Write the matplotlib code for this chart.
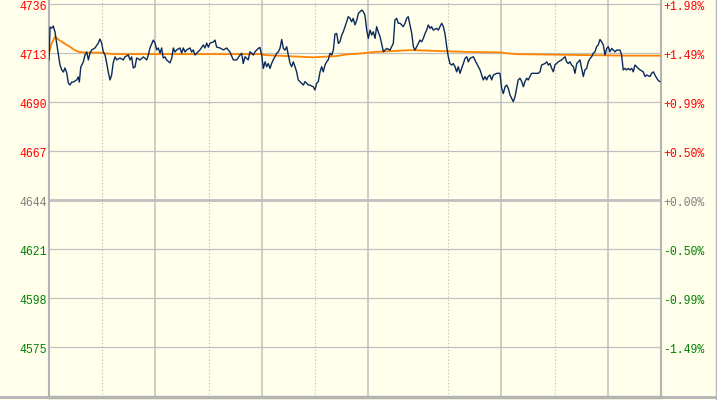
import matplotlib
matplotlib.use("Agg")
import matplotlib.pyplot as plt
from matplotlib.transforms import blended_transform_factory, offset_copy

# ---------------- data ----------------
prev_close = 4644
price_levels = [4736, 4713, 4690, 4667, 4644, 4621, 4598, 4575]
pct_labels = ["+1.98%", "+1.49%", "+0.99%", "+0.50%", "+0.00%", "-0.50%", "-0.99%", "-1.49%"]

# time grid (minutes from session open, 345 trading minutes total)
vgrid_minutes = [30, 60, 90, 120, 150, 180, 225, 255, 285, 315]
vgrid_dotted = [True, False, True, False, True, False, True, False, True, False]

price_min = [0, 0.6, 1.5, 2.4, 3.4, 4.3, 6.2, 7.2, 8.1, 9.0, 10.0, 10.9, 11.8, 12.8, 13.7, 15.6, 16.5, 17.1,
             17.9, 19.3, 20.3, 21.3, 22.2, 23.1, 24.1, 25.9, 27.8, 28.7, 29.7, 30.6, 31.6, 32.5, 33.4, 34.4,
             35.3, 36.2, 37.2, 38.2, 40.0, 41.9, 42.8, 44.7, 45.7, 46.6, 47.5, 48.5, 49.4, 51.3, 53.2, 55.1,
             56.0, 56.9, 58.8, 59.8, 60.7, 61.6, 62.6, 63.5, 64.4, 65.4, 66.3, 68.2, 69.2, 70.1, 71.0, 72.0,
             73.8, 74.8, 75.7, 76.7, 77.6, 79.5, 80.4, 81.3, 82.3, 83.3, 85.1, 87.0, 87.9, 88.9, 89.8, 90.8,
             92.6, 93.6, 94.5, 96.4, 98.3, 100.2, 102.0,
             103.9, 105.8, 107.7, 108.6, 109.5, 110.5, 111.4, 112.3, 113.3, 114.3, 115.2, 116.1, 118.0, 118.9,
             119.9, 120.8, 121.8, 122.7, 123.6, 124.6, 125.5, 126.4, 127.4, 128.4, 129.3, 130.2, 131.2, 132.1,
             133.0, 134.0, 134.9, 135.9, 136.8, 137.7, 138.7, 139.6, 140.5, 141.5, 142.4, 143.4, 144.3, 145.3,
             146.2, 147.1, 148.1, 149.0, 149.9, 150.9, 151.8, 152.8, 153.7, 154.6, 155.6, 156.5, 157.4, 158.4,
             159.4, 160.3, 161.2, 162.2, 163.1, 164.0, 165.0, 165.9, 166.9, 167.8, 168.7, 169.7, 170.6, 171.5,
             172.5, 173.5, 174.4, 175.3, 176.3, 177.2, 178.1, 179.1, 180.0, 181.0, 181.9, 182.8, 183.8, 184.7,
             185.6, 186.6, 187.5, 188.5, 189.4, 190.4, 192.2, 194.1, 195.0, 196.0, 196.9, 197.9, 199.7, 200.7,
             201.6, 202.5, 203.5, 204.5, 205.4, 206.3, 207.3, 208.2, 209.1, 210.1, 211.0, 212.0, 212.9, 213.8,
             214.8, 215.7, 216.6, 218.5, 219.5, 220.4, 221.4, 222.3, 223.2, 224.2, 225.1, 226.0, 227.0, 227.9,
             228.9, 229.8, 230.7, 231.7, 232.6, 233.6, 234.5, 235.5, 236.4, 237.3,
             239.2, 241.1, 243.0, 244.8, 245.8, 246.7, 247.6, 248.6, 249.5, 250.5, 252.4, 254.2, 255.2, 256.1,
             257.1, 258.0, 258.9, 259.9, 261.7, 262.7, 263.6, 264.5, 265.5, 266.5, 267.4, 268.3, 269.3, 270.2,
             271.1, 272.1, 274.0, 275.8, 276.8, 277.7, 279.6, 280.6, 281.5, 282.4, 283.4, 284.3, 285.2, 287.1,
             289.0, 289.9, 290.9, 291.8, 292.7, 293.7, 294.6, 295.6, 296.5, 297.5, 298.4, 299.3, 300.3, 301.2,
             302.1, 303.1, 304.0, 305.0, 305.9, 306.8, 307.8, 308.7, 309.6, 310.6, 311.5, 312.5, 313.4, 314.4,
             315.3, 316.2, 317.2, 318.1, 319.1, 320.0, 321.9, 322.8, 323.7, 324.7, 325.6, 326.6, 327.5, 328.5,
             329.4, 330.3, 331.3, 332.2, 333.2, 335.0, 336.0, 336.9, 338.8, 339.7, 340.7, 341.6, 342.6, 343.5,
             344.4]

price_val = [4709.9, 4725.3, 4724.8, 4725.8, 4723.0, 4717.8, 4707.5, 4705.2, 4704.2, 4706.1, 4703.8, 4699.0,
             4698.1, 4699.5, 4699.5, 4700.5, 4701.9, 4699.5, 4706.5, 4708.9, 4712.2, 4713.6, 4709.9, 4713.1,
             4714.6, 4715.5, 4717.8, 4719.7, 4717.8, 4713.6, 4712.2, 4708.5, 4704.2, 4700.5, 4702.8, 4708.5,
             4711.3, 4709.9, 4710.8, 4709.9, 4711.3, 4712.2, 4709.9, 4711.3, 4706.1, 4706.6, 4710.8, 4709.9,
             4711.3, 4709.9, 4712.2, 4715.5, 4719.2, 4717.8, 4714.6, 4715.5, 4713.1, 4715.5, 4710.8, 4711.3,
             4709.9, 4708.5, 4710.8, 4715.5, 4713.6, 4714.6, 4715.5, 4713.1, 4715.5, 4713.6, 4714.6, 4715.5,
             4713.6, 4714.6, 4712.2, 4713.1, 4714.6, 4716.9, 4715.5, 4717.8, 4715.9, 4717.8, 4718.3, 4719.2,
             4715.9, 4715.5, 4714.6, 4715.5, 4713.6,
             4709.9, 4709.9, 4712.2, 4713.0, 4708.2, 4711.4, 4710.6, 4709.9, 4713.7, 4713.0, 4712.2, 4713.7,
             4715.3, 4715.8, 4712.2, 4705.9, 4709.0, 4706.7, 4708.2, 4705.9, 4708.2, 4709.9, 4711.4, 4713.0,
             4713.7, 4715.3, 4719.5, 4715.3, 4714.5, 4716.1, 4712.2, 4708.2, 4706.7, 4709.0, 4706.7, 4704.3,
             4700.5, 4699.7, 4698.9, 4698.1, 4699.7, 4698.9, 4698.1, 4698.1, 4697.6, 4697.3, 4695.8, 4698.9,
             4699.7, 4704.3, 4706.7, 4704.3, 4707.5, 4709.0, 4709.9, 4713.0, 4712.2, 4714.5, 4722.0, 4722.3,
             4717.6, 4718.4, 4721.5, 4723.1, 4725.5, 4727.8, 4730.2, 4729.4, 4727.8, 4729.4, 4726.3, 4728.6,
             4731.7, 4732.5, 4733.3, 4732.5, 4730.9, 4723.9, 4720.0, 4723.9, 4721.6, 4723.1, 4720.0, 4725.5,
             4723.1, 4720.8, 4717.6, 4713.7, 4714.5, 4715.3, 4714.5, 4717.6, 4728.6, 4729.4, 4727.1, 4727.1,
             4725.5, 4727.1, 4729.4, 4730.2, 4726.3, 4722.3, 4716.1, 4714.5, 4716.1, 4717.6, 4719.2, 4718.4,
             4720.0, 4722.3, 4723.9, 4726.3, 4724.7, 4725.5, 4723.9, 4724.7, 4723.9, 4725.5, 4727.1, 4725.5,
             4722.3, 4716.1, 4711.4, 4708.2, 4707.5, 4708.2, 4706.7, 4704.3, 4706.7, 4703.6, 4705.9, 4708.2,
             4710.6, 4711.4, 4709.0, 4710.6,
             4711.4, 4708.2, 4705.2, 4700.5, 4702.1, 4700.5, 4702.1, 4702.8, 4700.5, 4702.8, 4703.6, 4703.6,
             4696.5, 4694.1, 4697.3, 4698.1, 4696.5, 4693.4, 4690.3, 4692.6, 4696.5, 4700.5, 4701.3, 4699.7,
             4697.3, 4699.7, 4701.3, 4700.5, 4702.1, 4703.6, 4703.6, 4703.6, 4704.3, 4707.5, 4708.2, 4709.0,
             4707.5, 4708.2, 4705.9, 4704.3, 4707.5, 4709.0, 4709.9, 4710.6, 4711.4, 4709.0, 4708.2, 4709.0,
             4707.5, 4706.7, 4703.6, 4708.2, 4709.0, 4709.9, 4705.9, 4702.1, 4705.2, 4705.9, 4709.0, 4710.6,
             4711.4, 4713.0, 4713.7, 4716.1, 4716.9, 4719.5, 4718.4, 4716.9, 4712.2, 4715.3, 4716.1, 4713.7,
             4715.3, 4714.5, 4713.7, 4714.5, 4714.5, 4712.2, 4705.2, 4705.9, 4705.2, 4705.9, 4705.2, 4705.9,
             4704.3, 4707.5, 4706.7, 4705.9, 4705.2, 4704.3, 4702.1, 4702.8, 4702.1, 4703.6, 4704.3, 4702.8,
             4701.3, 4700.2, 4699.7]

avg_min = [0, 1.5, 3.4, 5.2, 7.2, 10.0, 11.8, 13.7, 16.5, 21.3, 28.7, 36.2, 120.8, 121.0, 141.5, 149.0, 162.0,
           168.0, 177.0, 183.0, 194.5, 204.0, 233.6, 255.0, 258.0, 264.0, 299.0, 324.0, 344.4]
avg_val = [4713.0, 4717.6, 4720.8, 4719.5, 4718.4, 4716.9, 4716.1, 4714.9, 4713.7, 4713.3, 4713.3, 4712.6,
           4712.6, 4712.2, 4711.4, 4711.1, 4711.7, 4712.5, 4713.0, 4713.6, 4714.1, 4714.5, 4713.7, 4713.4,
           4713.0, 4712.6, 4712.2, 4711.9, 4711.9]

# ---------------- style ----------------
W, H = 717, 400
BG = "#ffffec"
GRID = "#c0c0c0"
PRICE_C = "#0b2a5b"
AVG_C = "#ff8400"
UP_C = "#ff0000"
DOWN_C = "#008000"
FLAT_C = "#808080"
FONT = "Liberation Mono"

fig = plt.figure(figsize=(W / 100, H / 100), dpi=100, facecolor=BG)
ax_l, ax_r = 49 / W, 661 / W
ax_b, ax_t = (H - 396.5) / H, 1.0
ax = fig.add_axes([ax_l, ax_b, ax_r - ax_l, ax_t - ax_b], facecolor=BG)

ppx = 49.0 / 23.0  # pixels per point
y_lo = prev_close - (396.5 - 200.3) / ppx
y_hi = prev_close + 200.3 / ppx
ax.set_xlim(0, 345)
ax.set_ylim(y_lo, y_hi)

# horizontal grid
for lv in price_levels:
    lw = 2.0 if lv == prev_close else 0.9
    ax.axhline(lv, color=GRID, lw=lw, zorder=1)
# vertical grid
for m, dotted in zip(vgrid_minutes, vgrid_dotted):
    if dotted:
        ax.axvline(m, color="#b8b8b8", lw=0.8, ls=(0, (1, 2)), zorder=1)
    else:
        ax.axvline(m, color=GRID, lw=1.1, zorder=1)

ax.plot(avg_min, avg_val, color=AVG_C, lw=1.3, zorder=3)
ax.plot(price_min, price_val, color=PRICE_C, lw=1.0, zorder=4)

ax.spines["top"].set_visible(False)
for s in ["left", "right"]:
    ax.spines[s].set_color("#b4b4b4")
    ax.spines[s].set_linewidth(1.5)
ax.spines["bottom"].set_color("#b4b4b4")
ax.spines["bottom"].set_linewidth(2.5)
ax.set_xticks([])
ax.set_yticks([])

tr = blended_transform_factory(fig.transFigure, ax.transData)
tr = offset_copy(tr, fig=fig, y=-2.2, units="dots")
for lv, pl in zip(price_levels, pct_labels):
    c = UP_C if lv > prev_close else (DOWN_C if lv < prev_close else FLAT_C)
    fig.text(46.5 / W, lv, str(lv), transform=tr, ha="right", va="center",
             color=c, fontsize=8.3, family=FONT)
    fig.text(663 / W, lv, pl, transform=tr, ha="left", va="center",
             color=c, fontsize=8.3, family=FONT)

# frame lines outside the plot
fig.add_artist(plt.Line2D([0, 1], [3.2 / H, 3.2 / H], transform=fig.transFigure,
                          color="#b4b4b4", lw=2.0))
fig.add_artist(plt.Line2D([715.5 / W, 715.5 / W], [0, 1], transform=fig.transFigure,
                          color="#b4b4b4", lw=1.0))

fig.savefig("out.png", dpi=100, facecolor=BG)
